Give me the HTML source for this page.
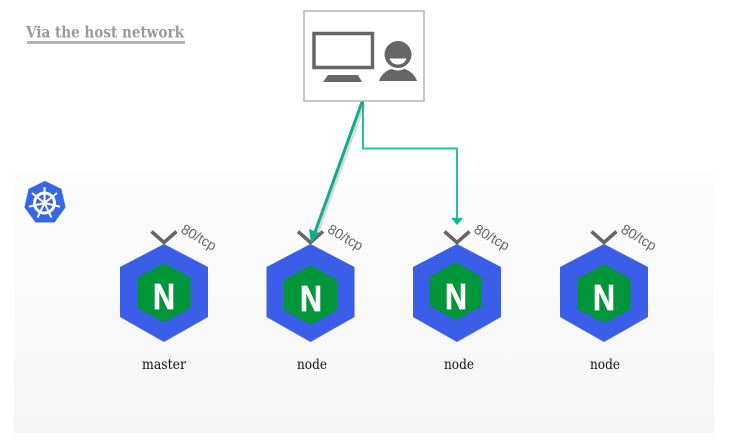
<!DOCTYPE html>
<html><head><meta charset="utf-8"><style>
html,body{margin:0;padding:0;background:#fff;width:731px;height:446px;overflow:hidden}
svg{display:block}
</style></head><body>
<svg width="731" height="446" viewBox="0 0 731 446" xmlns="http://www.w3.org/2000/svg">
<defs>
<linearGradient id="bg" x1="0" y1="0" x2="0" y2="1"><stop offset="0" stop-color="#fdfdfd"/><stop offset="1" stop-color="#f5f5f5"/></linearGradient>
<g id="node">
<path d="M-12.500 -61.500L0 -50.500L12.500 -61.500" fill="none" stroke="#666" stroke-width="3.500"/>
<polygon points="0,-49 44,-26 44,24 0,49 -44,24 -44,-26" fill="#3b5ee8"/>
<text x="16" y="-61" transform="rotate(30 16 -61)" font-family="'Liberation Sans',sans-serif" font-size="14" fill="#666">80/tcp</text>
</g>
</defs>
<rect x="14" y="172" width="700" height="261" fill="url(#bg)"/>
<text x="26" y="37.500" font-family="'DejaVu Serif',serif" font-weight="bold" font-size="15.500" fill="#9a9a9a" textLength="158" lengthAdjust="spacingAndGlyphs">Via the host network</text>
<rect x="27" y="41" width="158" height="3" fill="#b4b4b4"/>
<rect x="304" y="11" width="120" height="90" fill="#fff" stroke="#c8c8c8" stroke-width="2"/>
<rect x="314" y="33.500" width="58.500" height="34" fill="#fff" stroke="#666" stroke-width="3.500"/>
<polygon points="328,75 358,75 362,82 323,82" fill="#666"/>
<circle cx="398" cy="54.500" r="13.500" fill="#666"/>
<path d="M389.500 58.500H406.500C405 62.500 402 64.500 398 64.500C394 64.500 391 62.500 389.500 58.500Z" fill="#fff"/>
<path d="M379 81C381 74 388 69.500 392 69C396 71 400 71 404 69C408 69.500 415 74 417 81Z" fill="#666"/>

<g transform="translate(164 293)"><use href="#node"/></g>
<g transform="translate(310.500 293)"><use href="#node"/></g>
<g transform="translate(457 293)"><use href="#node"/></g>
<g transform="translate(604 293)"><use href="#node"/></g>

<g fill="#009639">
<polygon points="164,263 190.500,277.500 190.500,308 164,322.500 137.500,308 137.500,277.500"/>
<polygon points="310.500,265 337,280 337,310 310.500,325 284,310 284,280"/>
<polygon points="456,262 482,277 482,306 456,320 429.500,306 429.500,277"/>
<polygon points="604,264 630.500,279 630.500,309 604,323 577.500,309 577.500,279"/>
</g>
<g font-family="'Liberation Sans',sans-serif" font-weight="bold" font-size="36" fill="#fff" stroke="#fff" stroke-width=".7">
<text x="153" y="309" textLength="22" lengthAdjust="spacingAndGlyphs">N</text>
<text x="300" y="311" textLength="22" lengthAdjust="spacingAndGlyphs">N</text>
<text x="445" y="309" textLength="22" lengthAdjust="spacingAndGlyphs">N</text>
<text x="593" y="310" textLength="22" lengthAdjust="spacingAndGlyphs">N</text>
</g>
<g font-family="'DejaVu Serif',serif" font-size="14" fill="#111">
<text x="142" y="369" textLength="44" lengthAdjust="spacingAndGlyphs">master</text>
<text x="297" y="369" textLength="30" lengthAdjust="spacingAndGlyphs">node</text>
<text x="444" y="369" textLength="30" lengthAdjust="spacingAndGlyphs">node</text>
<text x="590" y="369" textLength="30" lengthAdjust="spacingAndGlyphs">node</text>
</g>

<path d="M363 101V148.500H457V218" fill="none" stroke="#1fc4a6" stroke-width="2"/>
<polygon points="451,218 463,218 457,225" fill="#10b99c"/>
<line x1="363" y1="103" x2="316" y2="232" stroke="#777" stroke-opacity=".28" stroke-width="3" transform="translate(1.500 .5)"/>
<line x1="362" y1="102" x2="315" y2="232" stroke="#10ac8e" stroke-width="3"/>
<polygon points="309,229 319,233 311,243" fill="#10ac8e"/>

<polygon points="45,182 60.500,189.500 64.500,207 54,221.500 36,221.500 25.500,207 29.500,189.500" fill="#3567e6" stroke="#3567e6" stroke-width="2" stroke-linejoin="round"/>
<g stroke="#fff" fill="none">
<circle cx="44.500" cy="203" r="10" stroke-width="3"/>
<g stroke-width="2"><line x1="44.500" y1="203" x2="44.500" y2="187"/><line x1="44.500" y1="203" x2="57" y2="193"/><line x1="44.500" y1="203" x2="60" y2="206.600"/><line x1="44.500" y1="203" x2="51.400" y2="217.400"/><line x1="44.500" y1="203" x2="37.600" y2="217.400"/><line x1="44.500" y1="203" x2="29" y2="206.600"/><line x1="44.500" y1="203" x2="32" y2="193"/></g>
</g>
<circle cx="44.500" cy="203" r="2.500" fill="#fff"/>
</svg>
</body></html>
